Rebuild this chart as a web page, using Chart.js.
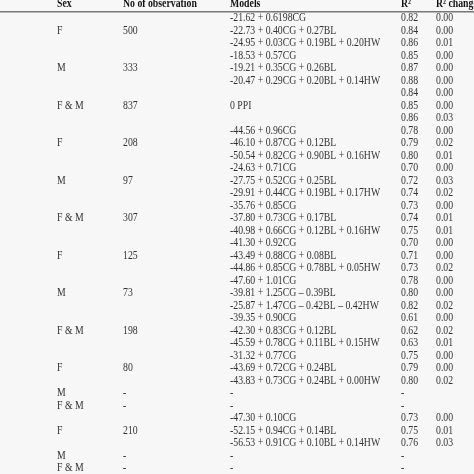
<!DOCTYPE html>
<html>
<head>
<meta charset="utf-8">
<script src="https://cdn.jsdelivr.net/npm/chart.js@4.4.0/dist/chart.umd.min.js"></script>
<style>
  html, body { margin: 0; padding: 0; background: #f7f7f7; }
  #wrap { width: 474px; height: 474px; }
</style>
</head>
<body>
<div id="wrap"><canvas id="tableChart" width="474" height="474"></canvas></div>
<script>
// رؤوس الأعمدة
const headers = ['Sex', 'No of observation', 'Models', 'R²', 'R² change'];

// بيانات الصفوف
const sexCol = ['', 'F', '', '', 'M', '', '', 'F & M', '', '', 'F', '', '', 'M', '', '', 'F & M', '', '', 'F', '', '', 'M', '', '', 'F & M', '', '', 'F', '', 'M', 'F & M', '', 'F', '', 'M', 'F & M'];
const obsCol = ['', '500', '', '', '333', '', '', '837', '', '', '208', '', '', '97', '', '', '307', '', '', '125', '', '', '73', '', '', '198', '', '', '80', '', '-', '-', '', '210', '', '-', '-'];
const models = [
    '-21.62 + 0.6198CG', '-22.73 + 0.40CG + 0.27BL', '-24.95 + 0.03CG + 0.19BL + 0.20HW',
    '-18.53 + 0.57CG', '-19.21 + 0.35CG + 0.26BL', '-20.47 + 0.29CG + 0.20BL + 0.14HW',
    '', '0 PPI', '',
    '-44.56 + 0.96CG', '-46.10 + 0.87CG + 0.12BL', '-50.54 + 0.82CG + 0.90BL + 0.16HW',
    '-24.63 + 0.71CG', '-27.75 + 0.52CG + 0.25BL', '-29.91 + 0.44CG + 0.19BL + 0.17HW',
    '-35.76 + 0.85CG', '-37.80 + 0.73CG + 0.17BL', '-40.98 + 0.66CG + 0.12BL + 0.16HW',
    '-41.30 + 0.92CG', '-43.49 + 0.88CG + 0.08BL', '-44.86 + 0.85CG + 0.78BL + 0.05HW',
    '-47.60 + 1.01CG', '-39.81 + 1.25CG – 0.39BL', '-25.87 + 1.47CG – 0.42BL – 0.42HW',
    '-39.35 + 0.90CG', '-42.30 + 0.83CG + 0.12BL', '-45.59 + 0.78CG + 0.11BL + 0.15HW',
    '-31.32 + 0.77CG', '-43.69 + 0.72CG + 0.24BL', '-43.83 + 0.73CG + 0.24BL + 0.00HW',
    '-', '-',
    '-47.30 + 0.10CG', '-52.15 + 0.94CG + 0.14BL', '-56.53 + 0.91CG + 0.10BL + 0.14HW',
    '-', '-'
];
const r2 = ['0.82', '0.84', '0.86', '0.85', '0.87', '0.88', '0.84', '0.85', '0.86', '0.78', '0.79', '0.80',
    '0.70', '0.72', '0.74', '0.73', '0.74', '0.75', '0.70', '0.71', '0.73', '0.78', '0.80', '0.82',
    '0.61', '0.62', '0.63', '0.75', '0.79', '0.80', '-', '-', '0.73', '0.75', '0.76', '-', '-'];
const r2Change = ['0.00', '0.00', '0.01', '0.00', '0.00', '0.00', '0.00', '0.00', '0.03', '0.00', '0.02', '0.01',
    '0.00', '0.03', '0.02', '0.00', '0.01', '0.01', '0.00', '0.00', '0.02', '0.00', '0.00', '0.02',
    '0.00', '0.02', '0.01', '0.00', '0.00', '0.02', '', '', '0.00', '0.01', '0.03', '', ''];

// مواضع الأعمدة على المحور الأفقي
const columnX = [57, 123, 230, 401, 436];
const headerRow = -1.12;
const ruleRow = -0.5;

// كتابة نص مضغوط أفقياً
function drawText(ctx, text, x, y) {
    ctx.fillText(text, x, y, ctx.measureText(text).width * 0.85);
}

// رسم النصوص عبر مقاييس المكتبة
const tablePlugin = {
    id: 'tableText',
    afterDatasetsDraw(chart) {
        const ctx = chart.ctx;
        const xs = chart.scales.x;
        const ys = chart.scales.y;
        ctx.save();
        ctx.textBaseline = 'middle';
        ctx.textAlign = 'left';

        ctx.fillStyle = '#111';
        ctx.font = 'bold 11.5px "Liberation Serif", serif';
        headers.forEach((h, i) => {
            drawText(ctx, h, xs.getPixelForValue(columnX[i]), ys.getPixelForValue(headerRow));
        });

        ctx.strokeStyle = '#777';
        ctx.lineWidth = 1.5;
        ctx.beginPath();
        ctx.moveTo(xs.getPixelForValue(0), ys.getPixelForValue(ruleRow));
        ctx.lineTo(xs.getPixelForValue(474), ys.getPixelForValue(ruleRow));
        ctx.stroke();

        ctx.fillStyle = '#333';
        ctx.font = '11.5px "Liberation Serif", serif';
        const cols = [sexCol, obsCol, models, r2, r2Change];
        models.forEach((_, row) => {
            const y = ys.getPixelForValue(row);
            cols.forEach((col, c) => {
                if (col[row]) drawText(ctx, col[row], xs.getPixelForValue(columnX[c]), y);
            });
        });
        ctx.restore();
    }
};

document.addEventListener('DOMContentLoaded', function() {
    const ctx = document.getElementById('tableChart').getContext('2d');
    new Chart(ctx, {
        type: 'scatter',
        data: {
            datasets: [{
                data: models.map((_, i) => ({ x: columnX[2], y: i })),
                pointRadius: 0
            }]
        },
        options: {
            responsive: false,
            animation: false,
            layout: { padding: 0 },
            plugins: { legend: { display: false }, tooltip: { enabled: false } },
            scales: {
                x: { type: 'linear', min: 0, max: 474, display: false },
                y: { type: 'linear', min: -1.44, max: 36.48, reverse: true, display: false }
            }
        },
        plugins: [tablePlugin]
    });
});
</script>
</body>
</html>
